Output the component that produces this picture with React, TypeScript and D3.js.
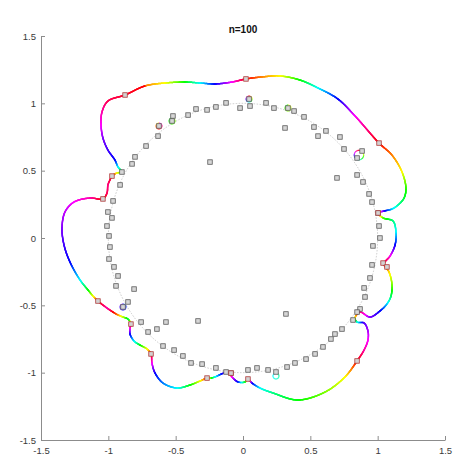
import { useEffect, useRef } from 'react';
import * as d3 from 'd3';

// main contour, clockwise from the top-left: x, y, hue (deg) seen at that spot
const contour: [number, number, number][] = [
  [-0.876, 1.062, 0], [-0.728, 1.129, 30], [-0.579, 1.151, 60], [-0.431, 1.158, 120],
  [-0.319, 1.151, 180], [-0.208, 1.144, 240], [-0.082, 1.158, 300], [0.022, 1.181, 0],
  [0.141, 1.196, 30], [0.275, 1.203, 60], [0.423, 1.173, 120], [0.557, 1.114, 180],
  [0.705, 1.032, 240], [0.832, 0.906, 300], [1.01, 0.705, 0], [1.106, 0.616, 30],
  [1.181, 0.49, 60], [1.21, 0.371, 110], [1.196, 0.297, 130], [1.151, 0.245, 160],
  [1.106, 0.215, 190], [1.047, 0.2, 250], [1.003, 0.186, 340], [1.04, 0.149, 100],
  [1.114, 0.126, 150], [1.136, 0.045, 180], [1.129, -0.052, 240], [1.092, -0.134, 300],
  [1.047, -0.193, 0], [1.084, -0.252, 50], [1.106, -0.342, 90], [1.099, -0.431, 140],
  [1.069, -0.49, 190], [1.017, -0.542, 240], [0.943, -0.587, 270], [0.869, -0.55, 330],
  [0.832, -0.594, 60], [0.847, -0.624, 170], [0.899, -0.631, 260], [0.928, -0.691, 280],
  [0.928, -0.757, 300], [0.899, -0.832, 320], [0.847, -0.913, 0], [0.757, -1.032, 60],
  [0.609, -1.144, 90], [0.408, -1.203, 120], [0.223, -1.151, 150], [0.126, -1.114, 180],
  [0.067, -1.077, 240], [0.037, -1.047, 0], [0.015, -1.069, 120], [-0.037, -1.069, 230],
  [-0.082, -1.032, 300], [-0.104, -1.003, 0], [-0.141, -1.003, 260], [-0.208, -1.032, 180],
  [-0.238, -1.04, 120], [-0.267, -1.04, 0], [-0.319, -1.062, 60], [-0.394, -1.092, 120],
  [-0.49, -1.114, 180], [-0.594, -1.077, 210], [-0.653, -1.003, 240], [-0.676, -0.928, 300],
  [-0.683, -0.861, 0], [-0.713, -0.824, 60], [-0.765, -0.795, 120], [-0.809, -0.765, 180],
  [-0.839, -0.713, 240], [-0.839, -0.668, 300], [-0.832, -0.639, 0], [-0.854, -0.602, 140],
  [-0.891, -0.587, 80], [-0.943, -0.564, 20], [-1.01, -0.52, 320], [-1.077, -0.468, 0],
  [-1.114, -0.431, 60], [-1.151, -0.386, 120], [-1.21, -0.312, 180], [-1.285, -0.178, 240],
  [-1.329, -0.052, 255], [-1.344, 0.074, 270], [-1.322, 0.193, 285], [-1.255, 0.267, 300],
  [-1.136, 0.297, 320], [-1.04, 0.29, 0], [-1.01, 0.334, 340], [-1.003, 0.394, 330],
  [-0.988, 0.431, 345], [-0.973, 0.46, 0], [-0.936, 0.483, 60], [-0.899, 0.49, 120],
  [-0.928, 0.527, 180], [-0.951, 0.579, 240], [-1.003, 0.653, 255], [-1.04, 0.743, 270],
  [-1.054, 0.839, 300], [-1.047, 0.936, 320], [-1.003, 1.017, 340],
];

// the nodes (gray squares), mostly close to the unit circle
const nodes: [number, number][] = [
  [-0.899, 0.49], [-0.824, 0.55], [-0.802, 0.602], [-0.72, 0.683], [-0.631, 0.757],
  [-0.624, 0.832], [-0.527, 0.869], [-0.52, 0.906], [-0.408, 0.913], [-0.349, 0.958],
  [-0.267, 0.951], [-0.201, 0.973], [-0.126, 1.003], [-0.022, 0.965], [0.045, 1.032],
  [0.052, 0.98], [0.171, 1.003], [0.23, 0.965], [0.334, 0.965], [0.379, 0.943],
  [0.453, 0.899], [0.527, 0.824], [0.557, 0.757], [0.616, 0.795], [0.72, 0.75],
  [0.75, 0.661], [0.884, 0.646], [0.847, 0.594], [0.847, 0.468], [0.891, 0.416],
  [0.936, 0.327], [0.958, 0.267], [1.003, 0.186], [1.01, 0.089], [1.017, 0.0],
  [0.965, -0.059], [0.958, -0.2], [0.943, -0.297], [0.899, -0.371], [0.906, -0.438],
  [0.869, -0.527], [0.847, -0.55], [0.817, -0.609], [0.735, -0.676], [0.683, -0.713],
  [0.653, -0.75], [0.594, -0.809], [0.535, -0.861], [0.468, -0.899], [0.386, -0.928],
  [0.327, -0.958], [0.245, -0.995], [0.186, -0.98], [0.104, -0.965], [0.037, -0.98],
  [-0.089, -1.003], [-0.126, -0.995], [-0.201, -0.965], [-0.304, -0.936], [-0.386, -0.928],
  [-0.446, -0.876], [-0.512, -0.832], [-0.594, -0.802], [-0.639, -0.676], [-0.705, -0.698],
  [-0.757, -0.624], [-0.854, -0.475], [-0.891, -0.512], [-0.943, -0.356], [-0.928, -0.282],
  [-0.958, -0.215], [-0.995, -0.156], [-0.988, -0.067], [-0.995, 0.015], [-1.01, 0.089],
  [-0.973, 0.149], [-1.003, 0.193], [-0.965, 0.275], [-0.913, 0.394],
  // inside the circle
  [-0.245, 0.564], [0.312, 0.817], [0.698, 0.446], [-0.334, -0.616], [0.319, -0.564],
  [-0.809, -0.379], [-0.572, -0.624],
];

// red squares: where the contour goes through hue 0
const zeros: [number, number][] = [
  [-0.876, 1.062], [0.022, 1.181], [1.01, 0.705], [1.003, 0.186], [1.04, -0.186],
  [1.069, -0.215], [0.847, -0.913], [0.037, -1.047], [-0.089, -1.003], [-0.267, -1.04],
  [-0.683, -0.861], [-0.832, -0.639], [-1.077, -0.468], [-1.04, 0.29], [-0.973, 0.46],
];

// small loops round some nodes: x, y, radius, start hue, hue span
const loops: [number, number, number, number, number][] = [
  [0.861, 0.616, 0.035, 0, 360],
  [0.245, -1.025, 0.022, 150, 40],
  [-0.891, -0.512, 0.022, 220, 50],
  [0.045, 1.032, 0.022, 0, 360],
  [-0.624, 0.832, 0.022, 300, 120],
  [-0.527, 0.869, 0.022, 80, 50],
  [0.334, 0.965, 0.022, 60, 60],
];

const ticks = [-1.5, -1, -0.5, 0, 0.5, 1, 1.5];
const title = 'n=100';

const W = 474;
const H = 475;
const font = '"Liberation Sans", Arial, Helvetica, sans-serif';

const PhasePlot: React.FC = () => {
  const ref = useRef<SVGSVGElement | null>(null);

  useEffect(() => {
    if (!ref.current) return;
    const svg = d3.select(ref.current);
    svg.selectAll('*').remove();

    const x = d3.scaleLinear().domain([-1.5, 1.5]).range([41, 445]);
    const y = d3.scaleLinear().domain([-1.5, 1.5]).range([440, 36]);

    // axes, MATLAB style: ticks inward, no box
    const gx = svg
      .append('g')
      .attr('transform', `translate(0,${y(-1.5)})`)
      .call(
        d3.axisBottom(x).tickValues(ticks).tickFormat((d) => String(d))
          .tickSizeInner(-4).tickSizeOuter(0).tickPadding(7)
      );
    const gy = svg
      .append('g')
      .attr('transform', `translate(${x(-1.5)},0)`)
      .call(
        d3.axisLeft(y).tickValues(ticks).tickFormat((d) => String(d))
          .tickSizeInner(-4).tickSizeOuter(0).tickPadding(5)
      );
    [gx, gy].forEach((g) => {
      g.attr('font-family', font).attr('font-size', 9.5);
      g.select('.domain').attr('stroke', '#8c8c8c');
      g.selectAll('.tick line').attr('stroke', '#8c8c8c');
      g.selectAll('.tick text').attr('fill', '#3a3a3a');
    });

    svg
      .append('text')
      .attr('x', (x(-1.5) + x(1.5)) / 2)
      .attr('y', 33)
      .attr('text-anchor', 'middle')
      .attr('font-family', font)
      .attr('font-size', 10)
      .attr('font-weight', 'bold')
      .attr('fill', '#111')
      .text(title);

    // unit circle
    svg
      .append('circle')
      .attr('cx', x(0))
      .attr('cy', y(0))
      .attr('r', x(1) - x(0))
      .attr('fill', 'none')
      .attr('stroke', '#c4c4c4')
      .attr('stroke-width', 0.9)
      .attr('stroke-dasharray', '1.5,1.5');

    // contour: build the smooth closed path, then colour it piece by piece
    const line = d3
      .line<[number, number, number]>()
      .x((d) => x(d[0]))
      .y((d) => y(d[1]))
      .curve(d3.curveCatmullRomClosed.alpha(0.5));
    const guide = svg
      .append('path')
      .attr('d', line(contour))
      .attr('fill', 'none')
      .attr('stroke', 'none');
    const node = guide.node()!;
    const total = node.getTotalLength();
    const N = 2600;
    const pts = d3.range(N + 1).map((i) => node.getPointAtLength((total * i) / N));

    const idx: number[] = [0];
    let prev = 0;
    for (let k = 1; k < contour.length; k++) {
      const px = x(contour[k][0]);
      const py = y(contour[k][1]);
      let best = -1;
      let bd = Infinity;
      const end = Math.min(N, prev + Math.floor(N / 3));
      for (let s = prev + 1; s < end; s++) {
        const d = (pts[s].x - px) ** 2 + (pts[s].y - py) ** 2;
        if (d < bd) {
          bd = d;
          best = s;
        } else if (bd < 2 && d > bd) {
          break;
        }
      }
      if (best < 0) best = prev + 1;
      idx.push(best);
      prev = best;
    }
    idx.push(N);
    const hues = contour.map((d) => d[2]).concat([contour[0][2]]);

    const gc = svg
      .append('g')
      .attr('fill', 'none')
      .attr('stroke-width', 1.5)
      .attr('stroke-linecap', 'round');
    for (let k = 0; k < idx.length - 1; k++) {
      const h0 = hues[k];
      const dh = ((hues[k + 1] - h0 + 540) % 360) - 180;
      const span = Math.max(1, idx[k + 1] - idx[k]);
      for (let s = idx[k]; s < idx[k + 1]; s++) {
        const h = (h0 + (dh * (s - idx[k])) / span + 720) % 360;
        gc.append('line')
          .attr('x1', pts[s].x)
          .attr('y1', pts[s].y)
          .attr('x2', pts[s + 1].x)
          .attr('y2', pts[s + 1].y)
          .attr('stroke', d3.hsl(h, 1, 0.5).formatHex());
      }
    }

    // little loops
    const arc = d3.arc();
    const seg = 36;
    loops.forEach(([lx, ly, lr, hs, hspan]) => {
      const r = x(lr) - x(0);
      const g = svg.append('g').attr('transform', `translate(${x(lx)},${y(ly)})`);
      for (let j = 0; j < seg; j++) {
        g.append('path')
          .attr(
            'd',
            arc({
              innerRadius: r - 0.55,
              outerRadius: r + 0.55,
              startAngle: (j * 2 * Math.PI) / seg,
              endAngle: ((j + 1.1) * 2 * Math.PI) / seg,
            })
          )
          .attr('fill', d3.hsl((hs + (hspan * j) / seg) % 360, 1, 0.5).formatHex());
      }
    });

    // nodes
    const sz = 4.5;
    svg
      .append('g')
      .selectAll('rect')
      .data(nodes)
      .join('rect')
      .attr('x', (d) => x(d[0]) - sz / 2)
      .attr('y', (d) => y(d[1]) - sz / 2)
      .attr('width', sz)
      .attr('height', sz)
      .attr('fill', '#d6d6d6')
      .attr('stroke', '#5a5a5a')
      .attr('stroke-width', 0.8);

    svg
      .append('g')
      .selectAll('rect')
      .data(zeros)
      .join('rect')
      .attr('x', (d) => x(d[0]) - sz / 2)
      .attr('y', (d) => y(d[1]) - sz / 2)
      .attr('width', sz)
      .attr('height', sz)
      .attr('fill', '#d2d2d2')
      .attr('stroke', '#b03a3a')
      .attr('stroke-width', 0.8);
  }, []);

  return (
    <svg
      ref={ref}
      width={W}
      height={H}
      style={{ position: 'absolute', left: 0, top: 0, background: '#fff' }}
    />
  );
};

export default function App() {
  return <PhasePlot />;
}
